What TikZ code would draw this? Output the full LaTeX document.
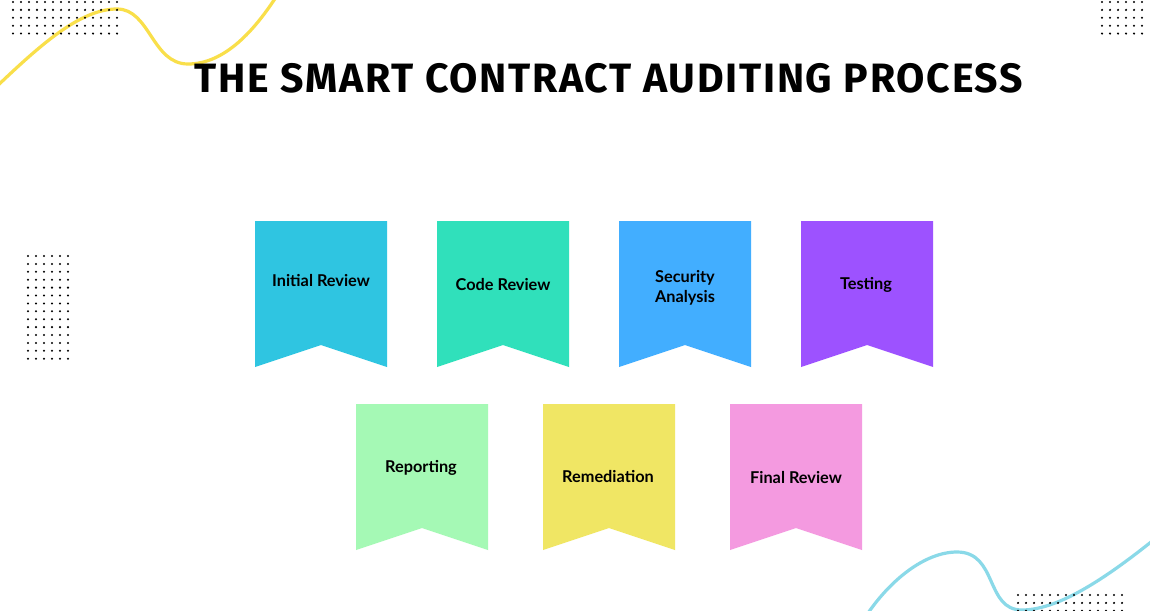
\documentclass[tikz,border=0pt]{standalone}
\usepackage{fontspec}
\setmainfont{Lato}
\newfontfamily\titlefont[LetterSpace=4.2]{Fira Sans}
\definecolor{cInit}{HTML}{2FC5E1}
\definecolor{cCode}{HTML}{30E0BB}
\definecolor{cSec}{HTML}{42AEFF}
\definecolor{cTest}{HTML}{9D52FF}
\definecolor{cRep}{HTML}{A5F9B5}
\definecolor{cRem}{HTML}{F0E664}
\definecolor{cFin}{HTML}{F49AE0}
\definecolor{cYel}{HTML}{F9DF4A}
\definecolor{cCyan}{HTML}{8AD9E8}
\newcommand\ribbon[3]{\fill[#3] (#1,#2) -- ++(132,0) -- ++(0,146) -- ++(-66,-22) -- ++(-66,22) -- cycle;}
\newcommand\dotgrid[5]{\foreach \i in {1,...,#3}{\foreach \j in {1,...,#4}{\fill[black] ({#1+(\i-1)*#5},{#2+(\j-1)*7.9}) circle (1.15);}}}
\tikzset{lbl/.style={font=\fontsize{16.3}{20}\selectfont\bfseries, text=black, align=center, inner sep=0pt}}
\begin{document}
\begin{tikzpicture}[x=1pt,y=-1pt]
\useasboundingbox (0,0) rectangle (1150,610);
\clip (0,0) rectangle (1150,610);
\fill[white] (0,0) rectangle (1150,610);
% decorative curves
\draw[cYel, line width=3.2pt] (-8,91) .. controls (40,45) and (80,9) .. (117,9) .. controls (150,9) and (152,64) .. (188,64) .. controls (225,64) and (255,30) .. (278,-6);
\draw[cCyan, line width=3.2pt] (866,616) .. controls (890,580) and (925,552) .. (957,552) .. controls (998,552) and (985,610) .. (1022,610) .. controls (1060,610) and (1110,575) .. (1156,538);
% dot grids
\dotgrid{13}{2}{14}{5}{8}
\dotgrid{1102}{2}{6}{5}{8}
\dotgrid{28}{256}{6}{14}{8}
\dotgrid{1018}{595}{14}{3}{8}
% title
\node[font=\titlefont\fontsize{41}{41}\selectfont\bfseries, anchor=base, inner sep=0pt] (title) at (609,92) {THE SMART CONTRACT AUDITING PROCESS};
% ribbons
\ribbon{255}{221}{cInit}
\ribbon{437}{221}{cCode}
\ribbon{619}{221}{cSec}
\ribbon{801}{221}{cTest}
\ribbon{356}{404}{cRep}
\ribbon{543}{404}{cRem}
\ribbon{730}{404}{cFin}
\node[lbl] (init) at (321,281) {Initial Review};
\node[lbl] (code) at (503,285) {Code Review};
\node[lbl] (sec) at (685,288) {Security\\Analysis};
\node[lbl] (test) at (866,285) {Testing};
\node[lbl] (rep) at (421,468) {Reporting};
\node[lbl] (rem) at (608,476) {Remediation};
\node[lbl] (fin) at (796,478) {Final Review};
\end{tikzpicture}
\end{document}
